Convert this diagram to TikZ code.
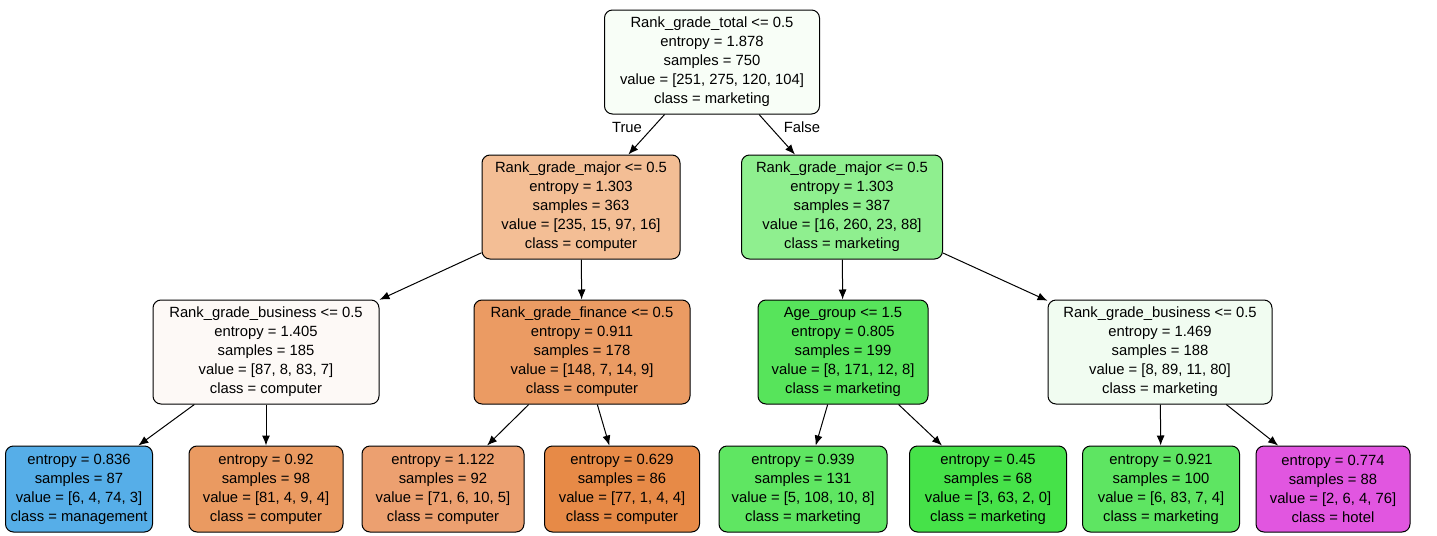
\documentclass[tikz,border=0pt]{standalone}
\usepackage{fontspec}
\setmainfont{Liberation Sans}
\usetikzlibrary{arrows.meta}
\begin{document}
\begin{tikzpicture}[x=0.5pt,y=-0.5pt,
  box/.style={draw,rounded corners=4pt,align=center,inner sep=0pt,line width=0.5pt,
    font=\fontsize{7.4}{9.5}\selectfont,minimum height=52pt},
  leaf/.style={box,minimum height=43pt},
  edge/.style={-{Latex[length=5pt,width=4pt]},line width=0.5pt},
  lbl/.style={font=\fontsize{7.4}{9}\selectfont}]
\useasboundingbox (0,0) rectangle (1437,536);
\definecolor{c0}{HTML}{F8FEF7}
\definecolor{c1}{HTML}{F3BE95}
\definecolor{c2}{HTML}{8FEF8F}
\definecolor{c3}{HTML}{FDF9F6}
\definecolor{c4}{HTML}{EB9B63}
\definecolor{c5}{HTML}{57E45B}
\definecolor{c6}{HTML}{F1FCF1}
\definecolor{c7}{HTML}{56AEE8}
\definecolor{c8}{HTML}{EA9A61}
\definecolor{c9}{HTML}{ECA070}
\definecolor{c10}{HTML}{E78A47}
\definecolor{c11}{HTML}{5FE662}
\definecolor{c12}{HTML}{46E249}
\definecolor{c13}{HTML}{5EE562}
\definecolor{c14}{HTML}{E156E0}

\node[box,fill=c0,minimum width=107.5pt] (n0) at (712,62) {Rank\_grade\_total <= 0.5\\entropy = 1.878\\samples = 750\\value = [251, 275, 120, 104]\\class = marketing};
\node[box,fill=c1,minimum width=99pt] (n1) at (581,207) {Rank\_grade\_major <= 0.5\\entropy = 1.303\\samples = 363\\value = [235, 15, 97, 16]\\class = computer};
\node[box,fill=c2,minimum width=100.5pt] (n2) at (842,207) {Rank\_grade\_major <= 0.5\\entropy = 1.303\\samples = 387\\value = [16, 260, 23, 88]\\class = marketing};
\node[box,fill=c3,minimum width=113pt] (n3) at (266,352) {Rank\_grade\_business <= 0.5\\entropy = 1.405\\samples = 185\\value = [87, 8, 83, 7]\\class = computer};
\node[box,fill=c4,minimum width=108pt] (n4) at (582,352) {Rank\_grade\_finance <= 0.5\\entropy = 0.911\\samples = 178\\value = [148, 7, 14, 9]\\class = computer};
\node[box,fill=c5,minimum width=85pt] (n5) at (843,352) {Age\_group <= 1.5\\entropy = 0.805\\samples = 199\\value = [8, 171, 12, 8]\\class = marketing};
\node[box,fill=c6,minimum width=112pt] (n6) at (1160,352) {Rank\_grade\_business <= 0.5\\entropy = 1.469\\samples = 188\\value = [8, 89, 11, 80]\\class = marketing};
\node[leaf,fill=c7,minimum width=73.5pt] (n7) at (79,489) {entropy = 0.836\\samples = 87\\value = [6, 4, 74, 3]\\class = management};
\node[leaf,fill=c8,minimum width=77pt] (n8) at (266,489) {entropy = 0.92\\samples = 98\\value = [81, 4, 9, 4]\\class = computer};
\node[leaf,fill=c9,minimum width=81pt] (n9) at (443,489) {entropy = 1.122\\samples = 92\\value = [71, 6, 10, 5]\\class = computer};
\node[leaf,fill=c10,minimum width=77.5pt] (n10) at (622,489) {entropy = 0.629\\samples = 86\\value = [77, 1, 4, 4]\\class = computer};
\node[leaf,fill=c11,minimum width=84pt] (n11) at (803,489) {entropy = 0.939\\samples = 131\\value = [5, 108, 10, 8]\\class = marketing};
\node[leaf,fill=c12,minimum width=78.5pt] (n12) at (988,489) {entropy = 0.45\\samples = 68\\value = [3, 63, 2, 0]\\class = marketing};
\node[leaf,fill=c13,minimum width=78.5pt] (n13) at (1161,489) {entropy = 0.921\\samples = 100\\value = [6, 83, 7, 4]\\class = marketing};
\node[leaf,fill=c14,minimum width=77pt] (n14) at (1333,489) {entropy = 0.774\\samples = 88\\value = [2, 6, 4, 76]\\class = hotel};

\draw[edge] (n0) -- (n1);
\draw[edge] (n0) -- (n2);
\draw[edge] (n1) -- (n3);
\draw[edge] (n1) -- (n4);
\draw[edge] (n2) -- (n5);
\draw[edge] (n2) -- (n6);
\draw[edge] (n3) -- (n7);
\draw[edge] (n3) -- (n8);
\draw[edge] (n4) -- (n9);
\draw[edge] (n4) -- (n10);
\draw[edge] (n5) -- (n11);
\draw[edge] (n5) -- (n12);
\draw[edge] (n6) -- (n13);
\draw[edge] (n6) -- (n14);
\node[lbl] (t) at (627,127) {True};
\node[lbl] (f) at (802,127) {False};
\end{tikzpicture}
\end{document}
